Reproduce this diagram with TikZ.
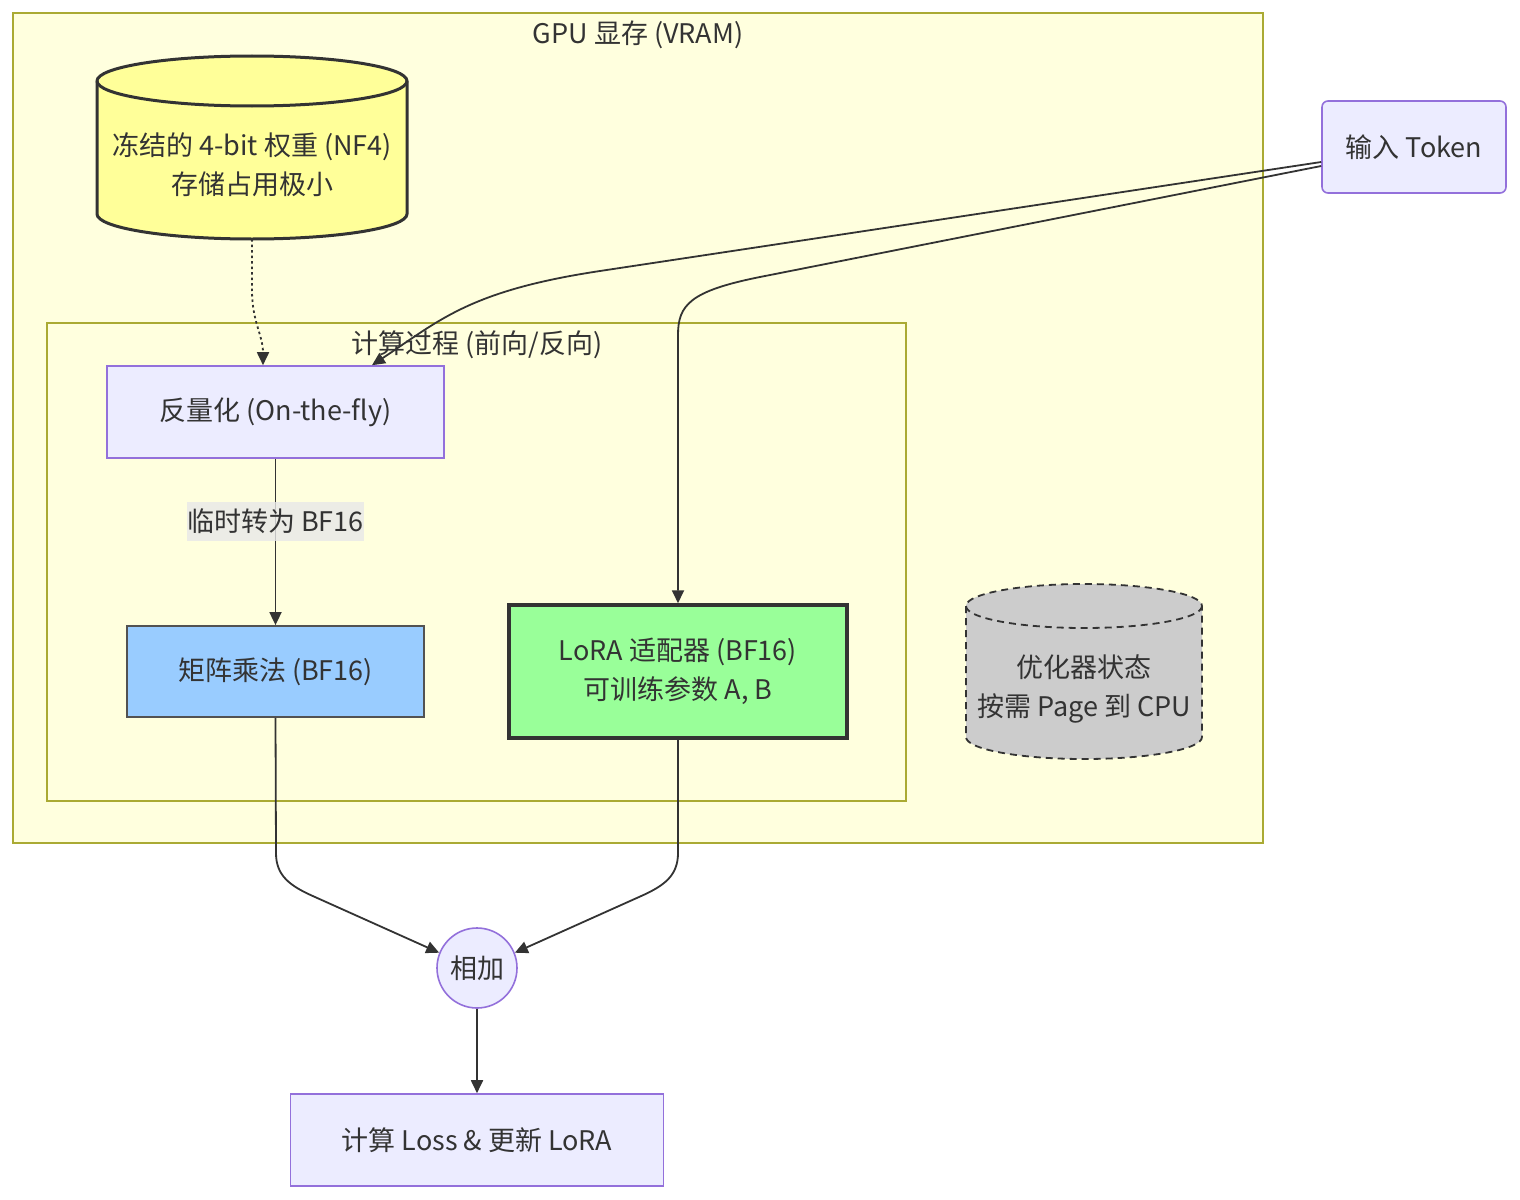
\documentclass[tikz,border=0pt]{standalone}
\usepackage{fontspec}
\setmainfont{Noto Sans CJK SC}
\usetikzlibrary{arrows.meta,shapes.geometric}
\definecolor{txt}{HTML}{333333}
\definecolor{clfill}{HTML}{FFFFDE}
\definecolor{clstroke}{HTML}{AAAA33}
\definecolor{nfill}{HTML}{ECECFF}
\definecolor{nstroke}{HTML}{9370DB}
\definecolor{yfill}{HTML}{FFFF99}
\definecolor{bfill}{HTML}{99CCFF}
\definecolor{gfill}{HTML}{99FF99}
\definecolor{ofill}{HTML}{CCCCCC}
\definecolor{lblbg}{HTML}{E8E8E8}
\tikzset{
  every node/.style={font=\fontsize{27}{39}\selectfont, text=txt},
  cluster/.style={fill=clfill, draw=clstroke, line width=1.6pt},
  plainbox/.style={rectangle, fill=nfill, draw=nstroke, line width=1.6pt, inner sep=0pt, align=center},
  edge/.style={draw=txt, line width=1.8pt, -{Triangle[length=13pt,width=12pt]}},
}
\begin{document}
\begin{tikzpicture}[x=1pt,y=-1pt]
\useasboundingbox (0,0) rectangle (1520,1199);
\fill[white] (0,0) rectangle (1520,1199);
% clusters
\draw[cluster] (13,13) rectangle (1263,843);
\node (gputitle) at (638,35) {GPU 显存 (VRAM)};
\draw[cluster] (47,323) rectangle (906,801);
\node (comptitle) at (477,345) {计算过程 (前向/反向)};
% cylinder A
\filldraw[fill=yfill, draw=txt, line width=3pt]
  (97,81) -- (97,214) arc[start angle=180, end angle=360, x radius=155pt, y radius=25pt]
  -- (407,81) arc[start angle=0, end angle=180, x radius=155pt, y radius=25pt] -- cycle;
\draw[txt, line width=3pt] (97,81) arc[start angle=180, end angle=360, x radius=155pt, y radius=25pt];
\node[align=center] (A) at (252,165) {冻结的 4-bit 权重 (NF4)\\存储占用极小};
\coordinate (Abot) at (252,239);
% cylinder optimizer
\filldraw[fill=ofill, draw=txt, line width=1.8pt, dash pattern=on 7pt off 5pt]
  (966,606) -- (966,737) arc[start angle=180, end angle=360, x radius=118pt, y radius=22pt]
  -- (1202,606) arc[start angle=0, end angle=180, x radius=118pt, y radius=22pt] -- cycle;
\draw[txt, line width=1.8pt, dash pattern=on 7pt off 5pt] (966,606) arc[start angle=180, end angle=360, x radius=118pt, y radius=22pt];
\node[align=center] (opt) at (1084,688.5) {优化器状态\\按需 Page 到 CPU};
% nodes
\node[plainbox, rounded corners=6pt, minimum width=184pt, minimum height=92pt] (tok) at (1414,147) {输入 Token};
\node[plainbox, minimum width=337pt, minimum height=92pt] (deq) at (275.5,412) {反量化 (On-the-fly)};
\node[plainbox, fill=bfill, draw=txt!85, line width=1.8pt, minimum width=297pt, minimum height=91pt] (mm) at (275.5,671.5) {矩阵乘法 (BF16)};
\node[plainbox, fill=gfill, draw=txt, line width=3.5pt, minimum width=338pt, minimum height=133pt] (lora) at (678,671.5) {LoRA 适配器 (BF16)\\可训练参数 A, B};
\node[circle, fill=nfill, draw=nstroke, line width=1.6pt, minimum size=80pt, inner sep=0pt] (add) at (477,968) {相加};
\node[plainbox, minimum width=373pt, minimum height=92pt] (loss) at (477,1140) {计算 Loss \& 更新 LoRA};
% edges
\draw[edge, dash pattern=on 2.5pt off 3pt] (Abot) -- (252,290) .. controls (252,322) and (263,335) .. ([xshift=-12.5pt]deq.north);
\draw[edge] ([yshift=-15pt]tok.west) -- (600,271) .. controls (470,290.6) and (440,320) .. ([xshift=96.5pt]deq.north);
\draw[edge] ([yshift=-19pt]tok.west) -- (760,277) .. controls (690,291) and (678,305) .. (678,335) -- (lora.north);
\draw[edge] (deq.south) -- (mm.north);
\draw[edge] (mm.south) -- (276,853) .. controls (276,876) and (290,886) .. (315,897) -- (add.158);
\draw[edge] (lora.south) -- (678,853) .. controls (678,876) and (664,886) .. (639,897) -- (add.22);
\draw[edge] (add.south) -- (loss.north);
% edge label
\node[fill=lblbg, fill opacity=0.8, text opacity=1, minimum width=175pt, minimum height=39pt, inner sep=0pt] (lbl) at (275.5,521.5) {临时转为 BF16};
\end{tikzpicture}
\end{document}
